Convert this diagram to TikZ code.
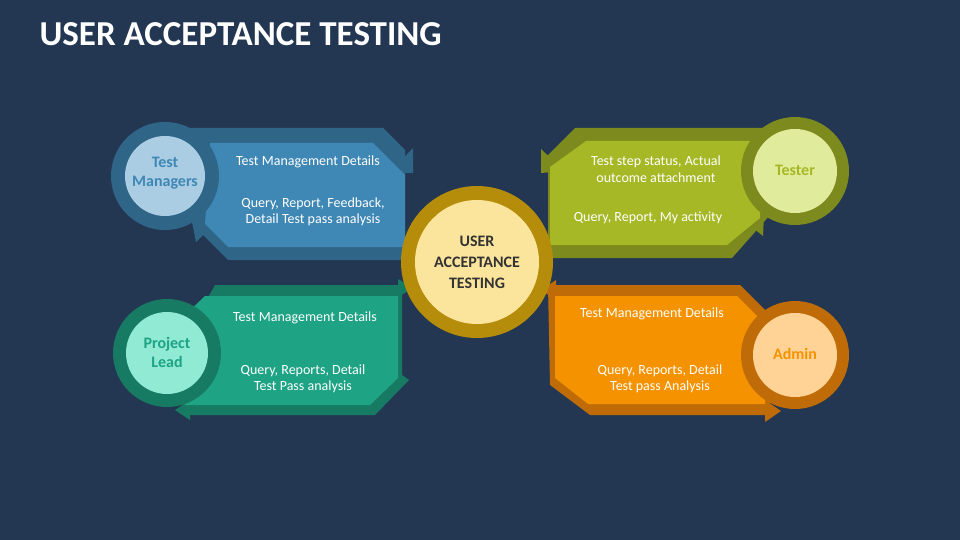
\documentclass[tikz,border=0pt]{standalone}
\usepackage{fontspec}
\setmainfont{Carlito}
\definecolor{bg}{HTML}{243752}
\definecolor{bP}{HTML}{3F87B4}\definecolor{bD}{HTML}{2F6688}\definecolor{bL}{HTML}{AACDE3}
\definecolor{gP}{HTML}{A6B826}\definecolor{gD}{HTML}{7C8A1E}\definecolor{gL}{HTML}{E1EB9C}
\definecolor{tP}{HTML}{1EA384}\definecolor{tD}{HTML}{177A62}\definecolor{tL}{HTML}{90EAD4}
\definecolor{oP}{HTML}{F59200}\definecolor{oD}{HTML}{BF6C08}\definecolor{oL}{HTML}{FFD396}
\definecolor{cR}{HTML}{B68D0A}\definecolor{cL}{HTML}{FBE59C}
\tikzset{
 txt/.style={text=white,font=\fontsize{14}{16.5}\selectfont,align=center},
 ctxt/.style={font=\bfseries\fontsize{16}{19}\selectfont,align=center},
}
\begin{document}
\begin{tikzpicture}[x=1pt,y=-1pt]
\fill[bg] (0,0) rectangle (960,540);
\useasboundingbox (0,0) rectangle (960,540);
\node[anchor=west,text=white,font=\bfseries\fontsize{35}{40}\selectfont] (title) at (36,34) {USER ACCEPTANCE TESTING};
% Test Managers panel
\fill[bD] (180,128)--(383,128)--(405,150)--(405,260)--(228,260)--(198,230)--cycle;
\fill[bD] (389,173)--(413,173)--(413,148)--cycle;
\fill[bD] (191,217)--(216,222)--(196,242)--cycle;
\fill[bP] (210,143)--(373,143)--(405,175)--(405,247)--(228,247)--(205,224)--cycle;
% Project Lead panel
\fill[tD] (215,285)--(402,285)--(402,375)--(409,380)--(375,415)--(190,415)--(190,330)--cycle;
\fill[tD] (398,279)--(413,288)--(398,297)--cycle;
\fill[tD] (190,400)--(175,410)--(190,420)--cycle;
\fill[tP] (205,296)--(398,296)--(398,378)--(370,405)--(185,405)--(185,315)--cycle;
% Tester panel
\fill[gD] (575,128)--(770,128)--(770,215)--(732,258)--(548,258)--(548,155)--cycle;
\fill[gD] (742,219)--(764,215)--(763,236)--cycle;
\fill[gD] (541,149)--(541,173)--(564,171)--cycle;
\fill[gP] (586,141)--(760,141)--(760,218)--(727,245)--(550,245)--(550,167)--cycle;
% Admin panel
\fill[oD] (548,285)--(740,285)--(770,315)--(770,415)--(590,415)--(550,385)--cycle;
\fill[oD] (556,280)--(541,290)--(556,300)--cycle;
\fill[oD] (765,400)--(781,411)--(765,422)--cycle;
\fill[oP] (555,296)--(737,296)--(765,324)--(765,404)--(588,404)--(555,378)--cycle;
% circles
\fill[bD] (165,176) circle (54); \fill[bL] (165,176) circle (40);
\node[ctxt,text=bP] (tm) at (165,173) {Test\\Managers};
\fill[tD] (167,353) circle (54); \fill[tL] (167,353) circle (41);
\node[ctxt,text=tP] (pl) at (167,352) {Project\\Lead};
\fill[gD] (795,171) circle (54); \fill[gL] (795,171) circle (42);
\node[ctxt,text=gP] (te) at (795,170) {Tester};
\fill[oD] (795,355) circle (54); \fill[oL] (795,355) circle (42);
\node[ctxt,text=oP] (ad) at (795,354) {Admin};
\fill[cR] (477,262) circle (76); \fill[cL] (477,262) circle (62);
\node[text=black!80,font=\bfseries\fontsize{16}{21}\selectfont,align=center] (c) at (477,262) {USER\\ACCEPTANCE\\TESTING};
% texts
\node[txt] (t1) at (308,162) {Test Management Details};
\node[txt] (t2) at (313,212) {Query, Report, Feedback,\\Detail Test pass analysis};
\node[txt] (t3) at (305,318) {Test Management Details};
\node[txt] (t4) at (303,379) {Query, Reports, Detail\\Test Pass analysis};
\node[txt] (t5) at (656,169) {Test step status, Actual\\outcome attachment};
\node[txt] (t6) at (648,218) {Query, Report, My activity};
\node[txt] (t7) at (652,314) {Test Management Details};
\node[txt] (t8) at (660,379) {Query, Reports, Detail\\Test pass Analysis};
\end{tikzpicture}
\end{document}
